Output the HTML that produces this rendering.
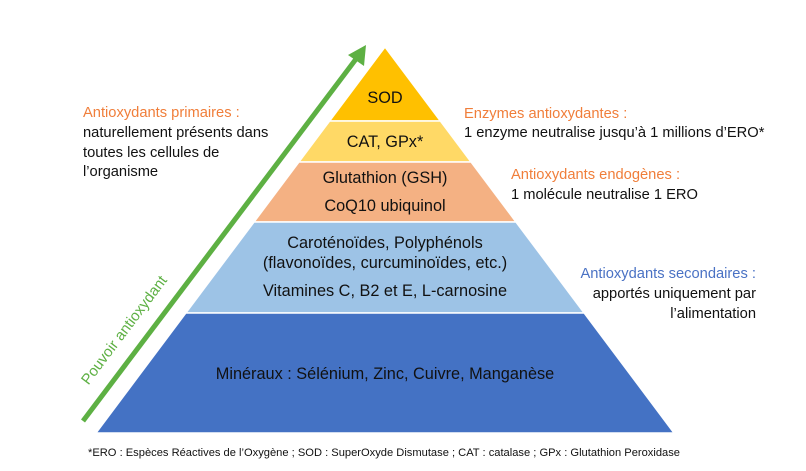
<!DOCTYPE html>
<html><head><meta charset="utf-8"><style>
html,body{margin:0;padding:0;background:#fff;}
svg{display:block;font-family:"Liberation Sans",sans-serif;}
</style></head><body>
<svg width="806" height="471" viewBox="0 0 806 471" xmlns="http://www.w3.org/2000/svg">
<g stroke="#fff" stroke-width="1.5">
<polygon points="385,47 440.4,121 329.6,121" fill="#FFC000"/>
<polygon points="329.6,121 440.4,121 471.1,162 298.9,162" fill="#FFD966"/>
<polygon points="298.9,162 471.1,162 516,222 254,222" fill="#F4B183"/>
<polygon points="254,222 516,222 584.2,313 185.8,313" fill="#9DC3E6"/>
<polygon points="185.8,313 584.2,313 674,433 96,433" fill="#4472C4"/>
</g>
<line x1="83" y1="421" x2="356" y2="59" stroke="#5DB043" stroke-width="5"/>
<polygon points="366,45 364,66 348,55" fill="#5DB043"/>
<text x="124" y="335" fill="#5DB043" font-size="15" text-anchor="middle" transform="rotate(-53 124 330)">Pouvoir antioxydant</text>
<g font-size="16.3" fill="#111" text-anchor="middle">
<text x="385" y="103">SOD</text>
<text x="385" y="147">CAT, GPx*</text>
<text x="385" y="183">Glutathion (GSH)</text>
<text x="385" y="211">CoQ10 ubiquinol</text>
<text x="385" y="248">Caroténoïdes, Polyphénols</text>
<text x="385" y="268">(flavonoïdes, curcuminoïdes, etc.)</text>
<text x="385" y="296">Vitamines C, B2 et E, L-carnosine</text>
<text x="385" y="379">Minéraux : Sélénium, Zinc, Cuivre, Manganèse</text>
</g>
<g font-size="14.7" fill="#111">
<text x="83" y="117" fill="#F07E3A">Antioxydants primaires :</text>
<text x="83" y="137">naturellement présents dans</text>
<text x="83" y="157">toutes les cellules de</text>
<text x="83" y="176">l’organisme</text>
<text x="464" y="118" fill="#F07E3A">Enzymes antioxydantes :</text>
<text x="464" y="137">1 enzyme neutralise jusqu’à 1 millions d’ERO*</text>
<text x="511" y="179" fill="#F07E3A">Antioxydants endogènes :</text>
<text x="511" y="199">1 molécule neutralise 1 ERO</text>
<text x="756" y="278" fill="#4A72C4" text-anchor="end">Antioxydants secondaires :</text>
<text x="756" y="298" text-anchor="end">apportés uniquement par</text>
<text x="756" y="318" text-anchor="end">l’alimentation</text>
</g>
<text x="88" y="456" font-size="11" fill="#111" textLength="592" lengthAdjust="spacingAndGlyphs">*ERO : Espèces Réactives de l’Oxygène ; SOD : SuperOxyde Dismutase ; CAT : catalase ; GPx : Glutathion Peroxidase</text>
</svg>
</body></html>
